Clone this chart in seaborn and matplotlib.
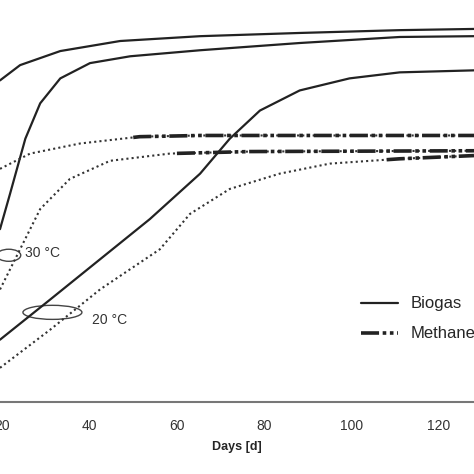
import matplotlib
matplotlib.use("Agg")
import matplotlib.pyplot as plt
import seaborn as sns
from matplotlib.patches import Ellipse

sns.set_style("white")
plt.rcParams['font.family'] = ['Liberation Sans', 'DejaVu Sans']

# Biogas curves (40, 30, 20 °C)
bio_a_x = [19.5, 24.1, 33.3, 47.0, 65.3, 88.1, 111.0, 128.0]
bio_a_y = [80.0, 83.8, 87.3, 89.8, 91.0, 91.8, 92.5, 92.8]
bio_b_x = [19.5, 21.8, 25.3, 28.7, 33.3, 40.1, 49.3, 65.3, 88.1, 111.0, 128.0]
bio_b_y = [43.0, 51.8, 65.5, 74.3, 80.5, 84.3, 86.0, 87.5, 89.3, 90.8, 91.0]
bio_c_x = [19.5, 31.0, 42.4, 53.8, 65.3, 72.1, 79.0, 88.1, 99.5, 111.0, 128.0]
bio_c_y = [15.5, 25.5, 35.5, 45.5, 56.8, 65.5, 72.5, 77.5, 80.5, 82.0, 82.5]
# Methane curves
met_a_x = [19.5, 26.4, 37.8, 51.5, 65.3, 128.0]
met_a_y = [58.0, 61.8, 64.3, 66.0, 66.3, 66.3]
met_b_x = [19.5, 24.1, 28.7, 35.5, 44.7, 58.4, 76.7, 128.0]
met_b_y = [28.0, 38.0, 48.0, 55.5, 60.0, 61.8, 62.3, 62.5]
met_c_x = [19.5, 31.0, 42.4, 56.1, 63.0, 72.1, 83.5, 95.0, 111.0, 128.0]
met_c_y = [8.5, 18.0, 28.0, 38.0, 46.8, 53.0, 56.8, 59.3, 60.5, 61.3]
met_dash_start = [50.0, 60.0, 108.0]

fig = plt.figure(figsize=(4.74, 4.74), dpi=100)
ax = fig.add_axes([0, 72/474, 1, 402/474])

for x, y in [(bio_a_x, bio_a_y), (bio_b_x, bio_b_y), (bio_c_x, bio_c_y)]:
    sns.lineplot(x=x, y=y, ax=ax, color='#222222', lw=1.6, sort=False)

for (x, y), xs in zip([(met_a_x, met_a_y), (met_b_x, met_b_y), (met_c_x, met_c_y)], met_dash_start):
    sns.lineplot(x=x, y=y, ax=ax, color='#333333', lw=1.5, ls=(0, (1, 1.5)), sort=False)
    xx = [v for v in x if v >= xs]
    yy = [y[i] for i, v in enumerate(x) if v >= xs]
    xx = [xs] + xx
    import numpy as np
    yy = [float(np.interp(xs, x, y))] + yy
    ax.plot(xx, yy, color='#222222', lw=2.6, ls=(0, (5, 1, 1, 1, 1, 1)))

ax.add_patch(Ellipse((21.5, 36.5), 5.5, 3.0, fill=False, color='#444444', lw=1))
ax.text(25.2, 37.0, '30 °C', fontsize=10, color='#333333', va='center')
ax.add_patch(Ellipse((31.5, 22.3), 13.5, 3.5, fill=False, color='#444444', lw=1))
ax.text(40.5, 20.5, '20 °C', fontsize=10, color='#333333', va='center')

from matplotlib.lines import Line2D
handles = [Line2D([], [], color='#222222', lw=1.6),
           Line2D([], [], color='#222222', lw=2.6, ls=(0, (5, 1, 1, 1, 1, 1)))]
ax.legend(handles, ['Biogas', 'Methane'], loc='upper left', bbox_to_anchor=(0.73, 0.30),
          frameon=False, fontsize=12, handlelength=2.2, labelspacing=0.9)

ax.set_xlim(19.5, 128)
ax.set_ylim(0, 100)
ax.set_xticks([20, 40, 60, 80, 100, 120])
ax.set_yticks([])
ax.tick_params(axis='x', labelsize=10, colors='#333333', length=0, pad=12)
for s in ['top', 'right', 'left']:
    ax.spines[s].set_visible(False)
ax.spines['bottom'].set_color('#777777')
ax.spines['bottom'].set_linewidth(1.5)
ax.set_xlabel('Days [d]', fontsize=9, fontweight='bold', labelpad=6)

fig.savefig('out.png', dpi=100)
